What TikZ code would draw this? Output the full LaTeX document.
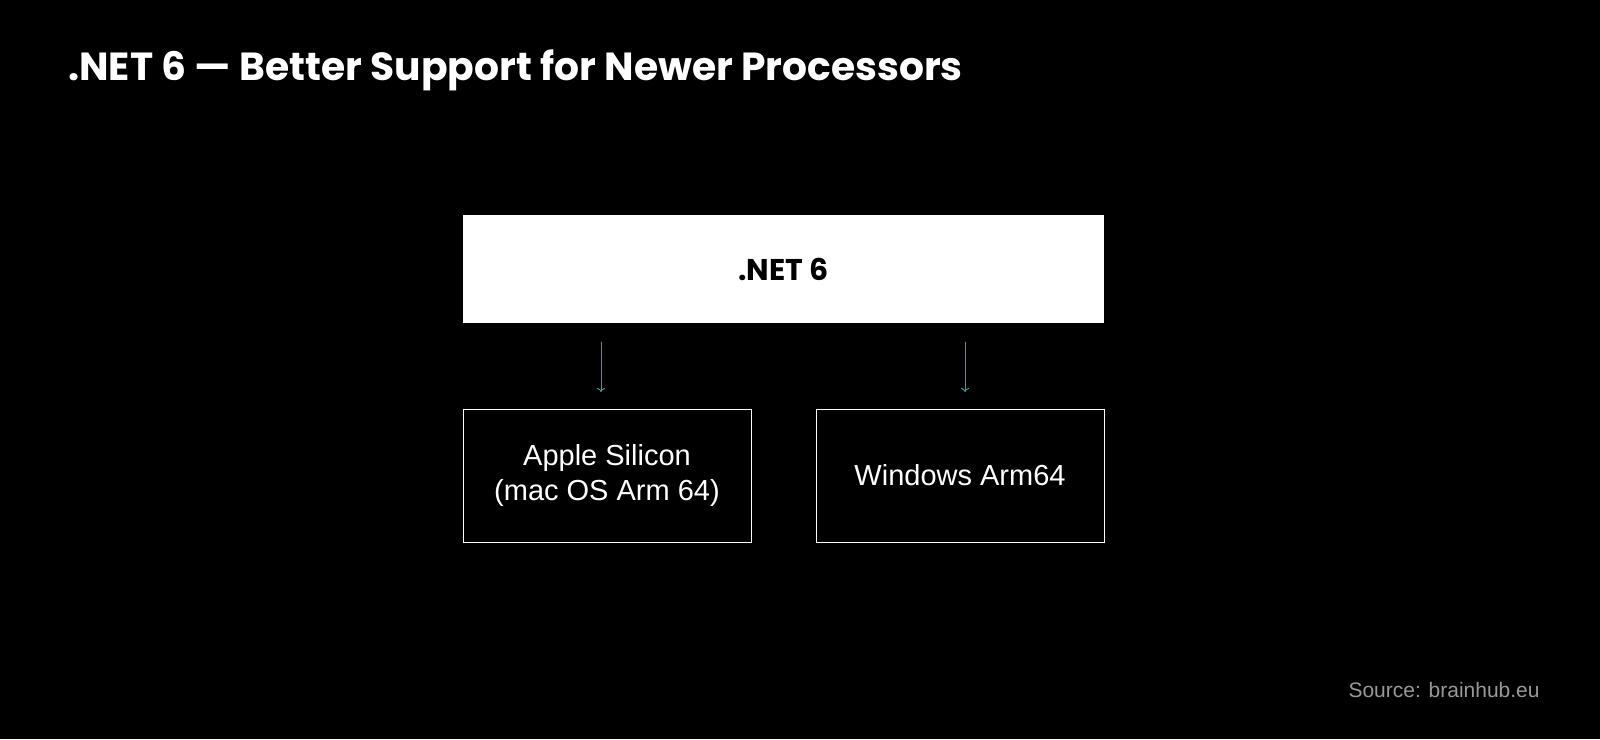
\documentclass[tikz,border=0pt]{standalone}
\usepackage{fontspec}
\usetikzlibrary{arrows.meta}
\setmainfont{Liberation Sans}
\newfontfamily\titlefont{Poppins}
\definecolor{teal1}{HTML}{3A9E96}
\begin{document}
\begin{tikzpicture}[x=0.5pt,y=-0.5pt,
  sbox/.style={draw=white,line width=0.5pt,minimum width=144pt,minimum height=66.5pt,inner sep=0pt,text=white,font=\fontsize{14.5}{17.5}\selectfont,align=center},
  arr/.style={draw=teal1,line width=0.5pt,-{To[length=2pt,width=4pt]}}]
\fill[black] (0,0) rectangle (1600,739);
\useasboundingbox (0,0) rectangle (1600,739);
\node[anchor=base west,text=white,inner sep=0pt,font=\titlefont\bfseries\fontsize{19.6}{22}\selectfont] (title) at (68,80) {.NET 6 — Better Support for Newer Processors};
\node[fill=white,minimum width=320.5pt,minimum height=54pt,inner sep=0pt,font=\titlefont\bfseries\fontsize{15}{18}\selectfont] (net) at (783.5,269) {.NET 6};
\node[sbox] (apple) at (607,475.5) {Apple Silicon\\(mac OS Arm 64)};
\node[sbox] (win) at (960,475.5) {Windows Arm64};
\coordinate (a1) at (601,342); \coordinate (a2) at (965,342);
\draw[arr] (a1) -- (601,392);
\draw[arr] (a2) -- (965,392);
\node[anchor=base east,inner sep=0pt,text=gray!80,font=\fontsize{10.5}{12}\selectfont] (src) at (1540,697) {Source: brainhub.eu};
\end{tikzpicture}
\end{document}
